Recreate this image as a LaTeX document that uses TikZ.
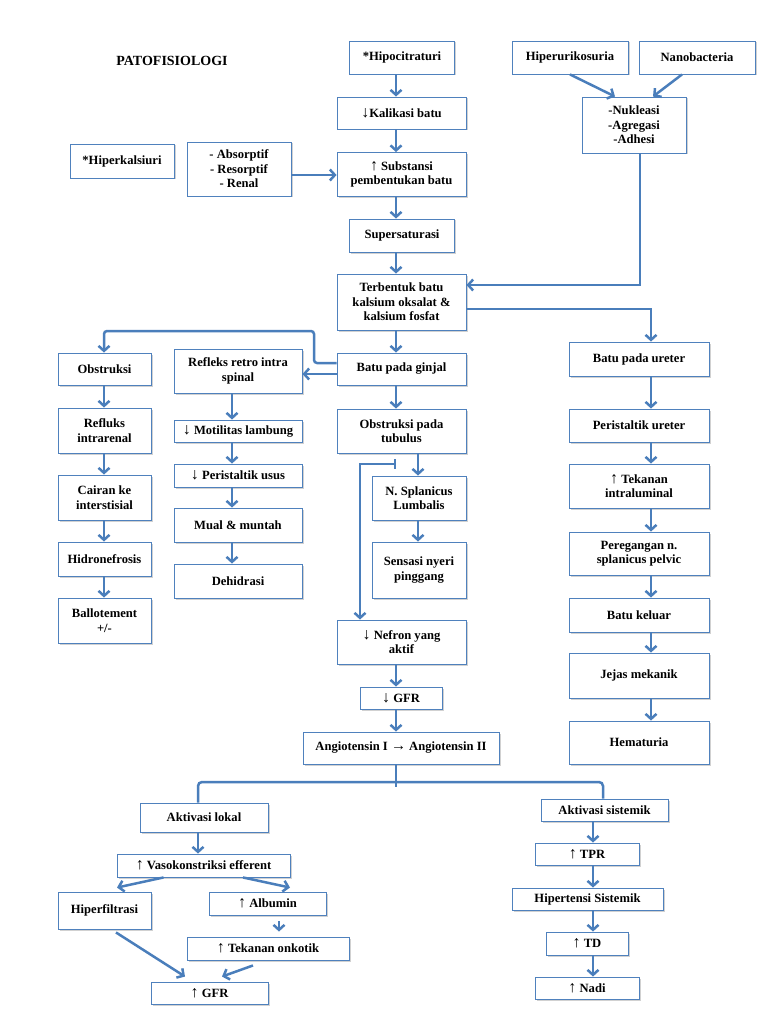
\documentclass[tikz,border=0pt]{standalone}
\usepackage{fontspec}
\setmainfont{Liberation Serif}
\usetikzlibrary{arrows.meta,shadows}
\definecolor{lineblue}{HTML}{4A7EBB}
\definecolor{boxblue}{HTML}{4F81BD}
\newcommand{\arrUp}{{\mdseries\fontsize{16}{14.5}\selectfont ↑}}
\newcommand{\arrDn}{{\mdseries\fontsize{16}{14.5}\selectfont ↓}}
\newcommand{\arrRt}{{\mdseries\fontsize{15}{14.5}\selectfont →}}
\begin{document}
\begin{tikzpicture}[x=1pt,y=-1pt,
  box/.style={draw=boxblue,line width=0.9pt,fill=white,align=center,inner sep=1pt,
    font=\bfseries\fontsize{12.6}{14.5}\selectfont,
    drop shadow={shadow xshift=1.5pt,shadow yshift=-1.5pt,fill=black,opacity=0.18}},
  conn/.style={draw=lineblue,line width=2.5pt,-{Straight Barb[length=5pt,width=11pt]}},
  plain/.style={draw=lineblue,line width=2.5pt},
  title/.style={font=\bfseries\fontsize{14}{16}\selectfont}]
\useasboundingbox[fill=white] (0,0) rectangle (768,1024);

% column coordinates
\coordinate (cM) at (396,0);
\coordinate (cL) at (104,0);
\coordinate (cMid) at (232,0);
\coordinate (cR) at (651,0);
\coordinate (cS) at (418,0);
\coordinate (cT) at (360,0);
\coordinate (cN) at (640,0);
\coordinate (cB) at (593,0);
\coordinate (cBL) at (198,0);
\coordinate (cBR) at (603,0);

\node[title] (judul) at (172,61) {PATOFISIOLOGI};

% top
\node[box,minimum width=105pt,minimum height=33pt] (hipo) at (402,57.5) {*Hipocitraturi};
\node[box,minimum width=116pt,minimum height=33pt] (hiperur) at (570,57.5) {Hiperurikosuria};
\node[box,minimum width=116pt,minimum height=33pt] (nano) at (697,57.5) {Nanobacteria};
\node[box,minimum width=129pt,minimum height=32pt] (kali) at (401.5,113) {\arrDn Kalikasi batu};
\node[box,minimum width=104pt,minimum height=56pt] (nuk) at (634,125) {-Nukleasi\\-Agregasi\\-Adhesi};
\node[box,minimum width=104pt,minimum height=34pt] (hiperkal) at (122,161) {*Hiperkalsiuri};
\node[box,minimum width=104pt,minimum height=54pt] (absorp) at (239,169) {- Absorptif\\- Resorptif\\- Renal};
\node[box,minimum width=129pt,minimum height=44pt] (subst) at (401.5,174.5) {\arrUp{} Substansi\\pembentukan batu};
\node[box,minimum width=105pt,minimum height=33pt] (super) at (402,235.5) {Supersaturasi};
\node[box,minimum width=129pt,minimum height=56pt] (terb) at (401.5,302) {Terbentuk batu\\kalsium oksalat \&\\kalsium fosfat};

% row of batu
\node[box,minimum width=93pt,minimum height=32pt] (obst) at (104.5,369) {Obstruksi};
\node[box,minimum width=128pt,minimum height=44pt] (refleks) at (238,371) {Refleks retro intra\\spinal};
\node[box,minimum width=129pt,minimum height=32pt] (bginjal) at (401.5,369) {Batu pada ginjal};
\node[box,minimum width=140pt,minimum height=34pt] (bureter) at (639,359) {Batu pada ureter};

% left column
\node[box,minimum width=93pt,minimum height=45pt] (refluks) at (104.5,430.5) {Refluks\\intrarenal};
\node[box,minimum width=93pt,minimum height=45pt] (cairan) at (104.5,497.5) {Cairan ke\\interstisial};
\node[box,minimum width=93pt,minimum height=34pt] (hidro) at (104.5,559) {Hidronefrosis};
\node[box,minimum width=93pt,minimum height=45pt] (ballot) at (104.5,620.5) {Ballotement\\+/-};

% middle-left column
\node[box,minimum width=128pt,minimum height=22pt] (motil) at (238,431) {\arrDn{} Motilitas lambung};
\node[box,minimum width=128pt,minimum height=23pt] (perus) at (238,475.5) {\arrDn{} Peristaltik usus};
\node[box,minimum width=128pt,minimum height=34pt] (mual) at (238,525) {Mual \& muntah};
\node[box,minimum width=128pt,minimum height=34pt] (dehid) at (238,581) {Dehidrasi};

% main column lower
\node[box,minimum width=129pt,minimum height=44pt] (tubulus) at (401.5,431) {Obstruksi pada\\tubulus};
\node[box,minimum width=94pt,minimum height=44pt] (splan) at (419,498) {N. Splanicus\\Lumbalis};
\node[box,minimum width=94pt,minimum height=56pt] (sensasi) at (419,570) {Sensasi nyeri\\pinggang};
\node[box,minimum width=129pt,minimum height=44pt] (nefron) at (401.5,642) {\arrDn{} Nefron yang\\aktif};
\node[box,minimum width=82pt,minimum height=22pt] (gfr1) at (401,698) {\arrDn{} GFR};
\node[box,minimum width=196pt,minimum height=32pt] (angio) at (401,748) {Angiotensin I \arrRt{} Angiotensin II};

% right column
\node[box,minimum width=140pt,minimum height=33pt] (perur) at (639,425.5) {Peristaltik ureter};
\node[box,minimum width=140pt,minimum height=44pt] (tekan) at (639,486) {\arrUp{} Tekanan\\intraluminal};
\node[box,minimum width=140pt,minimum height=43pt] (pereg) at (639,553.5) {Peregangan n.\\splanicus pelvic};
\node[box,minimum width=140pt,minimum height=34pt] (bkeluar) at (639,615) {Batu keluar};
\node[box,minimum width=140pt,minimum height=45pt] (jejas) at (639,675.5) {Jejas mekanik};
\node[box,minimum width=140pt,minimum height=43pt] (hemat) at (639,742.5) {Hematuria};

% bottom left
\node[box,minimum width=128pt,minimum height=29pt] (aklok) at (204,817.5) {Aktivasi lokal};
\node[box,minimum width=173pt,minimum height=23pt] (vaso) at (203.5,865.5) {\arrUp{} Vasokonstriksi efferent};
\node[box,minimum width=93pt,minimum height=37pt] (hiperf) at (104.5,910.5) {Hiperfiltrasi};
\node[box,minimum width=117pt,minimum height=23pt] (album) at (267.5,903.5) {\arrUp{} Albumin};
\node[box,minimum width=162pt,minimum height=23pt] (onkot) at (268,948.5) {\arrUp{} Tekanan onkotik};
\node[box,minimum width=117pt,minimum height=22pt] (gfr2) at (209.5,993) {\arrUp{} GFR};

% bottom right
\node[box,minimum width=127pt,minimum height=22pt] (aksis) at (604.5,810) {Aktivasi sistemik};
\node[box,minimum width=104pt,minimum height=22pt] (tpr) at (587,854) {\arrUp{} TPR};
\node[box,minimum width=151pt,minimum height=22pt] (hipsis) at (587.5,899) {Hipertensi Sistemik};
\node[box,minimum width=82pt,minimum height=23pt] (td) at (587,943.5) {\arrUp{} TD};
\node[box,minimum width=104pt,minimum height=22pt] (nadi) at (587,988) {\arrUp{} Nadi};

% ---- connectors ----
% main column top
\draw[conn] (hipo.south -| cM) -- (kali.north -| cM);
\draw[conn] (kali.south -| cM) -- (subst.north -| cM);
\draw[conn] (subst.south -| cM) -- (super.north -| cM);
\draw[conn] (super.south -| cM) -- (terb.north -| cM);
\draw[conn] ([yshift=-6pt]absorp.east) -- ([yshift=-0.5pt]subst.west);
\draw[conn] (hiperur.south) -- ([xshift=-19pt]nuk.north);
\draw[conn] ([xshift=-15pt]nano.south) -- ([xshift=19pt]nuk.north);
\draw[conn] (nuk.south -| cN) |- ([yshift=17pt]terb.east);
\draw[conn] ([yshift=-7pt]terb.east) -| (bureter.north -| cR);
\draw[conn] (terb.south -| cM) -- (bginjal.north -| cM);

% branches from batu pada ginjal
\coordinate (k1) at (314,331);
\draw[conn,rounded corners=3pt] ([yshift=6pt]bginjal.west) -| (k1) -| (obst.north -| cL);
\draw[conn] ([yshift=-5pt]bginjal.west) -- ([yshift=-3pt]refleks.east);

% left column
\draw[conn] (obst.south -| cL) -- (refluks.north -| cL);
\draw[conn] (refluks.south -| cL) -- (cairan.north -| cL);
\draw[conn] (cairan.south -| cL) -- (hidro.north -| cL);
\draw[conn] (hidro.south -| cL) -- (ballot.north -| cL);

% middle-left column
\draw[conn] (refleks.south -| cMid) -- (motil.north -| cMid);
\draw[conn] (motil.south -| cMid) -- (perus.north -| cMid);
\draw[conn] (perus.south -| cMid) -- (mual.north -| cMid);
\draw[conn] (mual.south -| cMid) -- (dehid.north -| cMid);

% main column lower
\draw[conn] (bginjal.south -| cM) -- (tubulus.north -| cM);
\draw[conn] (tubulus.south -| cS) -- (splan.north -| cS);
\draw[conn] (splan.south -| cS) -- (sensasi.north -| cS);
\coordinate (t1) at (396,464);
\draw[conn,{Bar[width=10pt,line width=1.6pt]}-{Straight Barb[length=5pt,width=11pt]}] (t1) -| (nefron.north -| cT);
\draw[conn] (nefron.south -| cM) -- (gfr1.north -| cM);
\draw[conn] (gfr1.south -| cM) -- (angio.north -| cM);

% right column
\draw[conn] (bureter.south -| cR) -- (perur.north -| cR);
\draw[conn] (perur.south -| cR) -- (tekan.north -| cR);
\draw[conn] (tekan.south -| cR) -- (pereg.north -| cR);
\draw[conn] (pereg.south -| cR) -- (bkeluar.north -| cR);
\draw[conn] (bkeluar.south -| cR) -- (jejas.north -| cR);
\draw[conn] (jejas.south -| cR) -- (hemat.north -| cR);

% bottom branch
\coordinate (jt) at (396,787);
\coordinate (j) at (396,782);
\draw[plain] (angio.south -| cM) -- (jt);
\draw[plain,rounded corners=4pt] (aklok.north -| cBL) |- (j) -| (aksis.north -| cBR);

% bottom left
\draw[conn] (aklok.south -| cBL) -- (vaso.north -| cBL);
\draw[conn] ([xshift=-40pt]vaso.south) -- ([xshift=12.5pt,yshift=4pt]hiperf.north);
\draw[conn] ([xshift=39.5pt]vaso.south) -- ([xshift=22.5pt,yshift=4pt]album.north);
\draw[conn] ([xshift=11.5pt,yshift=-6pt]album.south) -- ([xshift=11pt,yshift=5pt]onkot.north);
\draw[conn] ([xshift=11.5pt,yshift=-3pt]hiperf.south) -- ([xshift=-24.5pt,yshift=5pt]gfr2.north);
\draw[conn] ([xshift=-15pt,yshift=-5pt]onkot.south) -- ([xshift=12.5pt,yshift=5pt]gfr2.north);

% bottom right
\draw[conn] (aksis.south -| cB) -- (tpr.north -| cB);
\draw[conn] (tpr.south -| cB) -- (hipsis.north -| cB);
\draw[conn] (hipsis.south -| cB) -- (td.north -| cB);
\draw[conn] (td.south -| cB) -- (nadi.north -| cB);
\end{tikzpicture}
\end{document}
